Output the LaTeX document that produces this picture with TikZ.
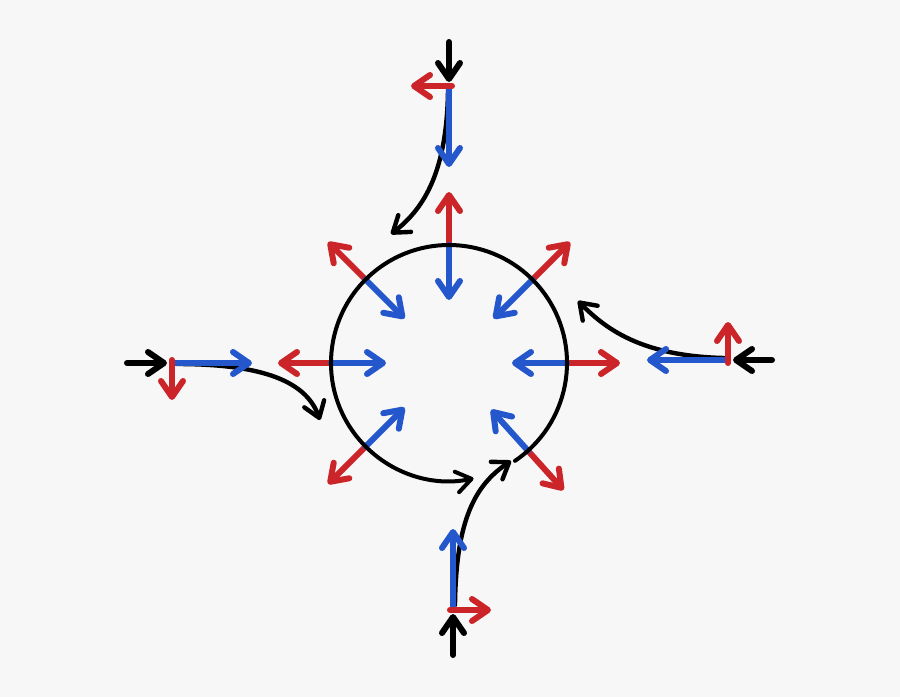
\documentclass[tikz,border=0pt]{standalone}
\usetikzlibrary{arrows.meta,calc}
\definecolor{bgc}{RGB}{247,247,247}
\definecolor{myred}{RGB}{204,37,41}
\definecolor{myblue}{RGB}{36,86,204}
\begin{document}
\begin{tikzpicture}[x=1pt,y=-1pt,
  arr/.style={line width=6pt,line cap=round,-{Straight Barb[length=16pt,width=22pt,round]}},
  redarr/.style={arr,draw=myred},
  bluearr/.style={arr,draw=myblue},
  blackarr/.style={arr,draw=black},
  flow/.style={line width=4.4pt,line cap=round,draw=black,-{Straight Barb[length=15pt,width=21pt,round]}},
  ring/.style={line width=4pt,draw=black,line cap=round}]
\fill[bgc] (0,0) rectangle (900,697);
\useasboundingbox (0,0) rectangle (900,697);
\coordinate (c) at (449,363);
% radial arrows
\foreach \a/\n in {0/r,48/br,135/bl,180/l,225/tl,270/t,315/tr}{
  \coordinate (p\n) at ($(c)+(\a:118)$);
  \coordinate (o\n) at ($(c)+(\a:171)$);
  \coordinate (i\n) at ($(c)+(\a:63)$);
  \draw[redarr] (p\n) -- (o\n);
  \draw[bluearr] (p\n) -- (i\n);
}
% circle with arrow
\coordinate (cs) at ($(c)+(56:118)$);
\draw[ring,-{Straight Barb[length=15pt,width=21pt,round]}] (cs) arc[start angle=56,end angle=-282,radius=118];

% top group
\coordinate (tA) at (449,42);
\coordinate (tB) at (449,82);
\coordinate (tJ) at (449,86);
\coordinate (tR) at (411,86);
\coordinate (tU) at (449,167);
\coordinate (tS) at (448,90);
\coordinate (tE) at (391,234);
\draw[flow] (tS) .. controls (447,170) and (425,208) .. (tE);
\draw[bluearr] (tJ) -- (tU);
\draw[redarr] ($(tJ)+(3,0)$) -- (tR);
\draw[blackarr] (tA) -- (tB);

% left group
\coordinate (lA) at (127,363);
\coordinate (lB) at (167,363);
\coordinate (lJ) at (172,363);
\coordinate (lR) at (172,400);
\coordinate (lU) at (252,363);
\coordinate (lS) at (176,364);
\coordinate (lE) at (320,420);
\draw[flow] (lS) .. controls (255,364) and (305,378) .. (lE);
\draw[bluearr] (lJ) -- (lU);
\draw[redarr] ($(lJ)+(0,-3)$) -- (lR);
\draw[blackarr] (lA) -- (lB);

% right group
\coordinate (rA) at (772,360);
\coordinate (rB) at (733,360);
\coordinate (rJ) at (728,360);
\coordinate (rR) at (728,322);
\coordinate (rU) at (647,360);
\coordinate (rS) at (724,358);
\coordinate (rE) at (578,301);
\draw[flow] (rS) .. controls (640,356) and (605,328) .. (rE);
\draw[bluearr] (rJ) -- (rU);
\draw[redarr] ($(rJ)+(0,3)$) -- (rR);
\draw[blackarr] (rA) -- (rB);

% bottom group
\coordinate (bA) at (453,655);
\coordinate (bB) at (453,614);
\coordinate (bJ) at (453,610);
\coordinate (bR) at (491,610);
\coordinate (bU) at (453,529);
\coordinate (bS) at (455,605);
\coordinate (bE) at (511,461);
\draw[flow] (bS) .. controls (456,520) and (475,485) .. (bE);
\draw[bluearr] (bJ) -- (bU);
\draw[redarr] ($(bJ)+(-3,0)$) -- (bR);
\draw[blackarr] (bA) -- (bB);
\end{tikzpicture}
\end{document}
